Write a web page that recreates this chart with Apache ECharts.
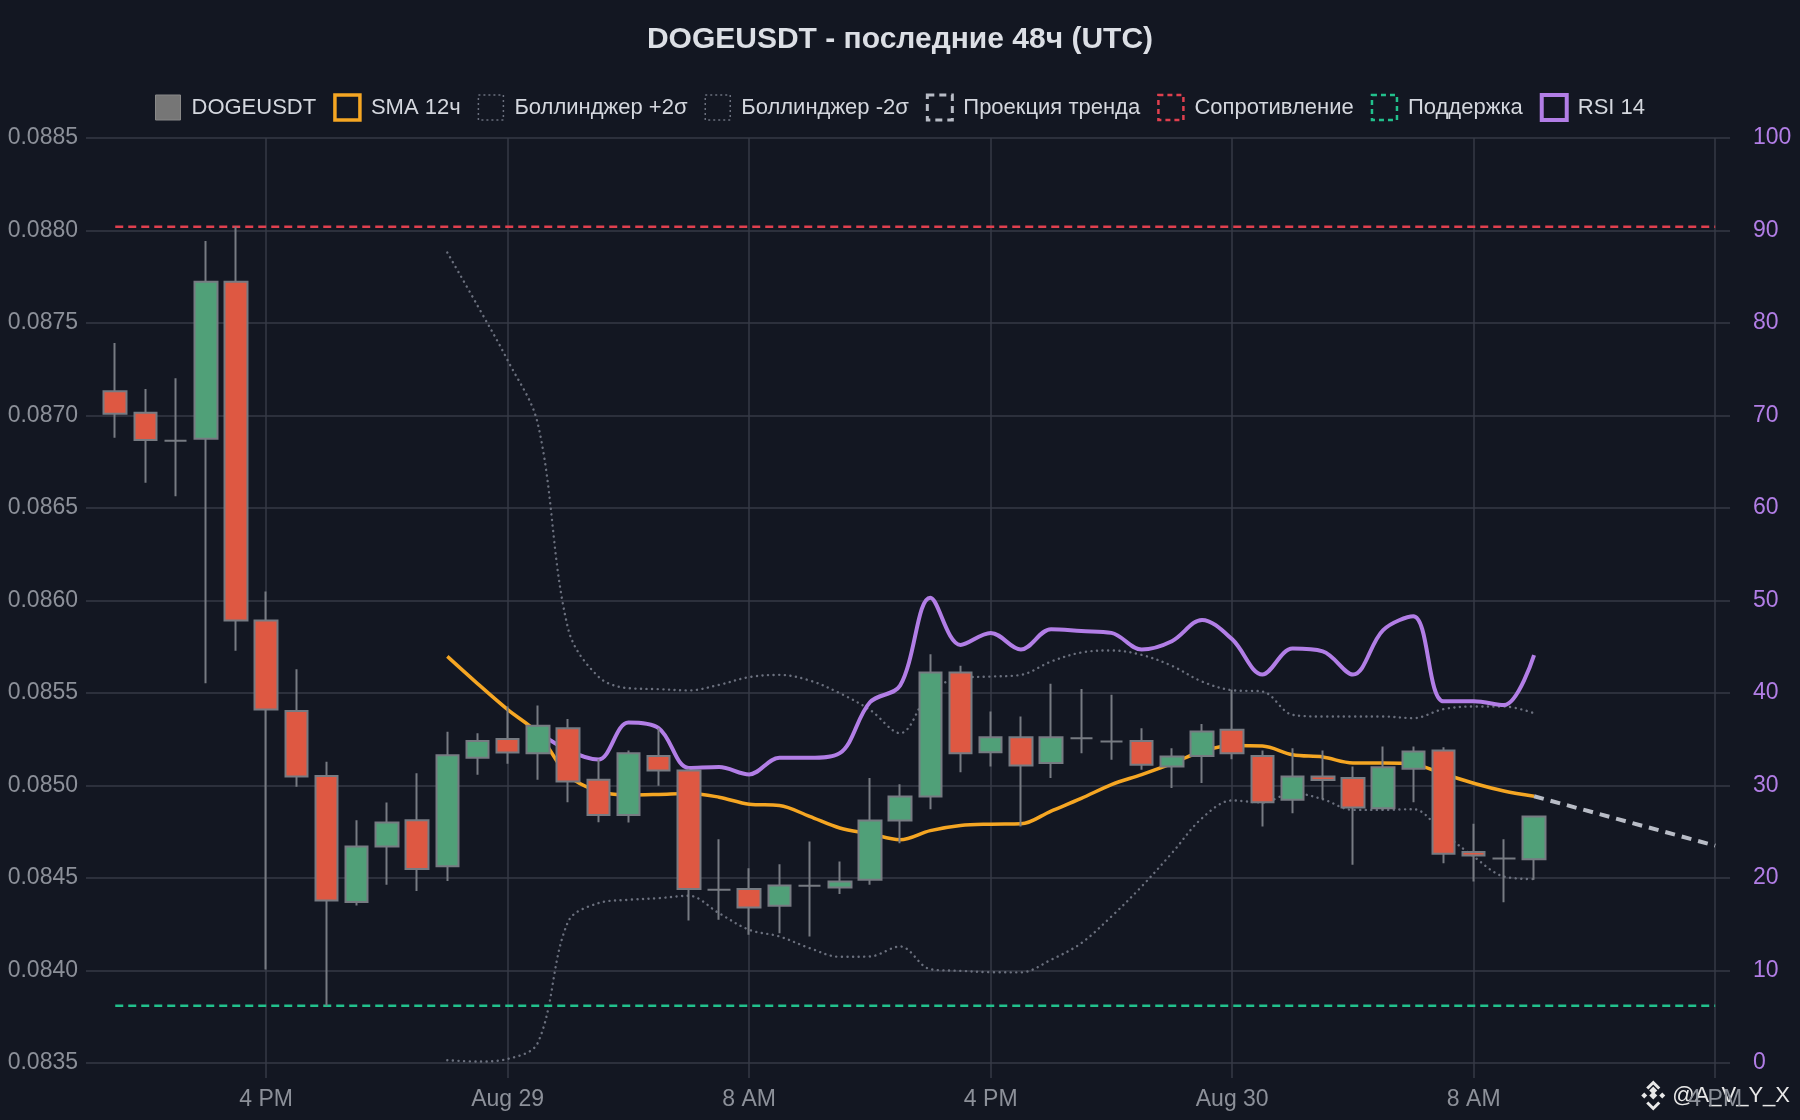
<!DOCTYPE html>
<html>
<head>
<meta charset="utf-8">
<title>DOGEUSDT</title>
<script src="https://cdn.jsdelivr.net/npm/echarts@6/dist/echarts.min.js"></script>
<style>
  html, body { margin: 0; padding: 0; background: #131722; }
  #chart { width: 1800px; height: 1120px; }
</style>
</head>
<body>
<div id="chart"></div>
<script>
// hours since Aug 28 00:00 UTC, one candle per hour (11:00 Aug 28 .. 10:00 Aug 30)
const hours = [11,12,13,14,15,16,17,18,19,20,21,22,23,24,25,26,27,28,29,30,31,32,33,34,35,36,37,38,39,40,41,42,43,44,45,46,47,48,49,50,51,52,53,54,55,56,57,58];

const opens = [0.087131,0.087015,0.086863,0.086874,0.087723,0.085892,0.085403,0.085052,0.084370,0.084670,0.084812,0.084563,
  0.085150,0.085252,0.085175,0.085310,0.085031,0.084841,0.085160,0.085081,0.084436,0.084440,0.084350,0.084458,
  0.084449,0.084490,0.084811,0.084941,0.085611,0.085180,0.085261,0.085121,0.085256,0.085238,0.085241,0.085103,
  0.085160,0.085301,0.085160,0.084923,0.085049,0.085040,0.084877,0.085090,0.085189,0.084640,0.084605,0.084602];
const highs = [0.087392,0.087143,0.087202,0.087943,0.088020,0.086048,0.085629,0.085129,0.084812,0.084908,0.085066,0.085290,
  0.085283,0.085427,0.085432,0.085359,0.085142,0.085189,0.085310,0.085090,0.084710,0.084553,0.084575,0.084697,
  0.084589,0.085040,0.085007,0.085710,0.085647,0.085400,0.085373,0.085550,0.085521,0.085490,0.085310,0.085202,
  0.085332,0.085517,0.085189,0.085202,0.085189,0.085103,0.085211,0.085211,0.085207,0.084793,0.084710,0.084836];
const lows = [0.086880,0.086636,0.086563,0.085553,0.085729,0.084005,0.084993,0.083810,0.084351,0.084464,0.084430,0.084484,
  0.085058,0.085117,0.085031,0.084910,0.084802,0.084800,0.084998,0.084270,0.084274,0.084193,0.084202,0.084184,
  0.084413,0.084463,0.084688,0.084872,0.085072,0.085103,0.084778,0.085040,0.085175,0.085139,0.085085,0.084986,
  0.085013,0.085142,0.084778,0.084850,0.084926,0.084571,0.084868,0.084910,0.084580,0.084481,0.084369,0.084490];
const closes = [0.087010,0.086868,0.086863,0.087723,0.085892,0.085411,0.085049,0.084379,0.084670,0.084800,0.084549,0.085163,
  0.085241,0.085178,0.085323,0.085022,0.084841,0.085175,0.085081,0.084440,0.084436,0.084340,0.084459,0.084458,
  0.084481,0.084811,0.084941,0.085611,0.085175,0.085261,0.085108,0.085261,0.085256,0.085238,0.085112,0.085157,
  0.085292,0.085175,0.084910,0.085049,0.085030,0.084881,0.085099,0.085184,0.084631,0.084621,0.084605,0.084832];

// indicator lines start at 22:00 Aug 28 (hour 22)
const smaHours = hours.slice(11);
const sma12 = [0.085698,0.085551,0.085410,0.085282,0.085056,0.084969,0.084949,0.084952,0.084957,0.084937,0.084899,0.084892,
  0.084833,0.084770,0.084739,0.084707,0.084756,0.084784,0.084791,0.084793,0.084862,0.084930,0.085005,0.085059,
  0.085118,0.085185,0.085216,0.085213,0.085166,0.085154,0.085122,0.085122,0.085115,0.085063,0.085012,0.084970,0.084942];
const bbUpper = [0.087881,0.087594,0.087298,0.086954,0.085849,0.085589,0.085526,0.085521,0.085514,0.085544,0.085586,0.085598,
  0.085568,0.085499,0.085409,0.085283,0.085508,0.085580,0.085589,0.085598,0.085670,0.085719,0.085730,0.085706,
  0.085647,0.085562,0.085515,0.085508,0.085382,0.085373,0.085373,0.085373,0.085364,0.085413,0.085427,0.085427,0.085391];
const bbLower = [0.083515,0.083508,0.083522,0.083610,0.084263,0.084364,0.084382,0.084391,0.084404,0.084310,0.084220,0.084184,
  0.084121,0.084074,0.084076,0.084130,0.084007,0.083998,0.083991,0.083990,0.084058,0.084148,0.084292,0.084454,
  0.084634,0.084823,0.084919,0.084908,0.084959,0.084926,0.084868,0.084868,0.084872,0.084742,0.084616,0.084508,0.084494];

// RSI starts at 01:00 Aug 29 (hour 25)
const rsiHours = hours.slice(14);
const rsi14 = [35.8,33.8,32.8,36.8,36.2,31.9,32.0,31.2,33.0,33.0,33.5,39.0,40.8,50.3,45.2,46.5,44.7,46.9,46.7,46.5,
  44.7,45.6,47.9,45.8,42.0,44.8,44.5,42.0,46.8,48.3,39.1,39.1,38.7,44.1];

const projHours = [58, 64];
const projValues = [0.084942, 0.084675];
const levelHours = [11, 64];
const resistance = 0.08802;
const support = 0.08381;

const tickHours = [16, 24, 32, 40, 48, 56, 64];
const tickLabels = ['4 PM', 'Aug 29', '8 AM', '4 PM', 'Aug 30', '8 AM', '4 PM'];

const FONT = '"Liberation Sans", Arial, sans-serif';
const GRID = '#363a46';
const RED = '#de5842';
const GREEN = '#50a078';
const WICK = '#777b82';
const ORANGE = '#f5a623';
const PURPLE = '#b27ee6';
const BAND = '#6b707e';

const zip = (xs, ys) => xs.map((x, i) => [x, ys[i]]);
const candles = hours.map((h, i) => [h, opens[i], closes[i], lows[i], highs[i]]);

const chart = echarts.init(document.getElementById('chart'));
chart.setOption({
  backgroundColor: '#131722',
  animation: false,
  textStyle: { fontFamily: FONT },
  title: {
    text: 'DOGEUSDT - последние 48ч (UTC)',
    left: 'center',
    top: 20,
    textStyle: { color: '#dcdfe5', fontSize: 30, fontWeight: 'bold', fontFamily: FONT }
  },
  legend: {
    top: 93,
    left: 'center',
    padding: 0,
    itemWidth: 25,
    itemHeight: 25,
    itemGap: 17,
    selectedMode: false,
    textStyle: { color: '#d4d7de', fontSize: 22, fontFamily: FONT, padding: [0, 0, 0, 6] },
    data: [
      { name: 'DOGEUSDT', icon: 'rect', itemStyle: { color: '#767676', borderColor: '#888', borderWidth: 1 } },
      { name: 'SMA 12ч', icon: 'rect', itemStyle: { color: 'transparent', borderColor: ORANGE, borderWidth: 3.5 } },
      { name: 'Боллинджер +2σ', icon: 'rect', itemStyle: { color: 'transparent', borderColor: BAND, borderWidth: 1.5, borderType: [2, 3] } },
      { name: 'Боллинджер -2σ', icon: 'rect', itemStyle: { color: 'transparent', borderColor: BAND, borderWidth: 1.5, borderType: [2, 3] } },
      { name: 'Проекция тренда', icon: 'rect', itemStyle: { color: 'transparent', borderColor: '#b8bcc6', borderWidth: 3, borderType: [7, 5] } },
      { name: 'Сопротивление', icon: 'rect', itemStyle: { color: 'transparent', borderColor: '#e0404f', borderWidth: 2.5, borderType: [5, 4] } },
      { name: 'Поддержка', icon: 'rect', itemStyle: { color: 'transparent', borderColor: '#22c08c', borderWidth: 2.5, borderType: [5, 4] } },
      { name: 'RSI 14', icon: 'rect', itemStyle: { color: 'transparent', borderColor: PURPLE, borderWidth: 4 } }
    ]
  },
  grid: { left: 92, right: 70, top: 138, bottom: 57 },
  xAxis: {
    type: 'value',
    min: 10.23,
    max: 64.49,
    axisLine: { show: false },
    axisTick: { show: true, length: 15, customValues: tickHours, lineStyle: { color: GRID, width: 1.5 } },
    splitLine: { show: true, lineStyle: { color: GRID, width: 1.5 } },
    axisLabel: {
      customValues: tickHours,
      margin: 25,
      color: '#8c9099',
      fontSize: 23,
      fontFamily: FONT,
      formatter: v => tickLabels[tickHours.indexOf(Math.round(v))] || ''
    }
  },
  yAxis: [
    {
      type: 'value',
      min: 0.0835,
      max: 0.0885,
      interval: 0.0005,
      axisLine: { show: false },
      axisTick: { show: true, length: 6, lineStyle: { color: GRID, width: 1.5 } },
      splitLine: { show: true, lineStyle: { color: GRID, width: 1.5 } },
      axisLabel: { color: '#8c9099', fontSize: 23, fontFamily: FONT, margin: 14, formatter: v => v.toFixed(4) }
    },
    {
      type: 'value',
      min: 0,
      max: 100,
      interval: 10,
      position: 'right',
      axisLine: { show: false },
      axisTick: { show: false },
      splitLine: { show: false },
      axisLabel: { color: PURPLE, fontSize: 23, fontFamily: FONT, margin: 23 }
    }
  ],
  series: [
    {
      name: 'DOGEUSDT',
      type: 'candlestick',
      z: 5,
      barWidth: 23,
      encode: { x: 0, y: [1, 2, 3, 4] },
      data: candles,
      itemStyle: {
        color: GREEN, color0: RED,
        borderColor: WICK, borderColor0: WICK, borderColorDoji: WICK,
        borderWidth: 2
      }
    },
    {
      name: 'SMA 12ч', type: 'line', z: 3, symbol: 'none', smooth: 0.35,
      data: zip(smaHours, sma12),
      lineStyle: { color: ORANGE, width: 3.5 }
    },
    {
      name: 'Боллинджер +2σ', type: 'line', z: 2, symbol: 'none', smooth: 0.35,
      data: zip(smaHours, bbUpper),
      lineStyle: { color: BAND, width: 2.4, type: [0.1, 5.5], cap: 'round' }
    },
    {
      name: 'Боллинджер -2σ', type: 'line', z: 2, symbol: 'none', smooth: 0.35,
      data: zip(smaHours, bbLower),
      lineStyle: { color: BAND, width: 2.4, type: [0.1, 5.5], cap: 'round' }
    },
    {
      name: 'Проекция тренда', type: 'line', z: 3, symbol: 'none',
      data: zip(projHours, projValues),
      lineStyle: { color: '#b8bcc6', width: 4, type: [10, 7] }
    },
    {
      name: 'Сопротивление', type: 'line', z: 2, symbol: 'none',
      data: zip(levelHours, [resistance, resistance]),
      lineStyle: { color: '#e0404f', width: 2.5, type: [8, 5] }
    },
    {
      name: 'Поддержка', type: 'line', z: 2, symbol: 'none',
      data: zip(levelHours, [support, support]),
      lineStyle: { color: '#22c08c', width: 2.5, type: [8, 5] }
    },
    {
      name: 'RSI 14', type: 'line', z: 3, yAxisIndex: 1, symbol: 'none', smooth: 0.35,
      data: zip(rsiHours, rsi14),
      lineStyle: { color: PURPLE, width: 4 }
    }
  ],
  graphic: [
    {
      type: 'group',
      right: 10,
      bottom: 9,
      z: 100,
      children: [
        { type: 'polygon', shape: { points: [[13, 4], [17, 8], [13, 12], [9, 8]] }, style: { fill: '#e8e8e8' } },
        { type: 'polygon', shape: { points: [[13, 9], [17, 13], [13, 17], [9, 13]] }, style: { fill: '#e8e8e8' } },
        { type: 'polygon', shape: { points: [[4, 10], [7, 13], [4, 16], [1, 13]] }, style: { fill: '#e8e8e8' } },
        { type: 'polygon', shape: { points: [[22, 10], [25, 13], [22, 16], [19, 13]] }, style: { fill: '#e8e8e8' } },
        { type: 'polyline', shape: { points: [[7, 6], [13, 0], [19, 6]] }, style: { stroke: '#e8e8e8', lineWidth: 3, fill: null } },
        { type: 'polyline', shape: { points: [[7, 20], [13, 26], [19, 20]] }, style: { stroke: '#e8e8e8', lineWidth: 3, fill: null } },
        { type: 'text', x: 32, y: 2, style: { text: '@A_V_Y_X', fill: '#e8e8e8', font: '22px "Liberation Sans", Arial, sans-serif' } }
      ]
    }
  ]
});
</script>
</body>
</html>
